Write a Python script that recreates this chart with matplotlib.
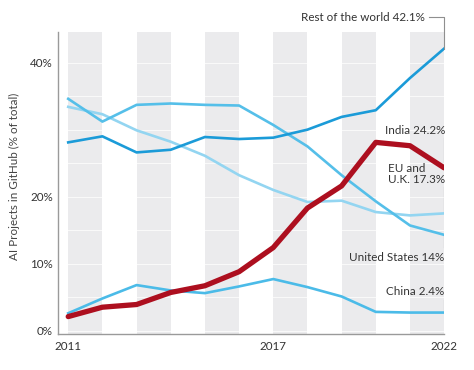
import matplotlib
matplotlib.use("Agg")
import matplotlib.pyplot as plt

years = list(range(2011, 2023))
rest_of_world = [28.1, 29.0, 26.6, 27.0, 28.9, 28.6, 28.8, 30.0, 31.9, 32.9, 37.7, 42.1]
united_states = [34.6, 31.2, 33.7, 33.9, 33.7, 33.6, 30.7, 27.5, 23.2, 19.3, 15.7, 14.3]
eu_uk = [33.4, 32.3, 29.9, 28.2, 26.1, 23.2, 21.0, 19.2, 19.4, 17.7, 17.2, 17.5]
india = [2.1, 3.5, 3.9, 5.7, 6.7, 8.8, 12.4, 18.3, 21.6, 28.1, 27.6, 24.3]
china = [2.6, 4.8, 6.8, 6.0, 5.6, 6.6, 7.7, 6.5, 5.1, 2.8, 2.7, 2.7]

yticks = [0, 10, 20, 40]
ytick_labels = ["0%", "10%", "20%", "40%"]
xticks = [2011, 2017, 2022]
xtick_labels = ["2011", "2017", "2022"]

plt.rcParams['font.family'] = ['Lato', 'DejaVu Sans']

fig = plt.figure(figsize=(4.74, 3.70), dpi=100)
ax = fig.add_axes([0.123, 0.0973, 0.937 - 0.123, 0.914 - 0.0973])

ax.set_xlim(2010.71, 2022)
ax.set_ylim(-0.5, 44.6)

for y0 in range(2011, 2022, 2):
    ax.axvspan(y0, y0 + 1, color="#ebebed", lw=0, zorder=0)
for gy in [0, 5, 10, 15, 20, 25, 30, 35, 40]:
    ax.axhline(gy, color="white", lw=0.8, alpha=0.7, zorder=0.5)

ax.plot(years, eu_uk, color="#93d5f1", lw=1.9, zorder=2, solid_joinstyle="round")
ax.plot(years, united_states, color="#55bfe9", lw=1.9, zorder=2, solid_joinstyle="round")
ax.plot(years, china, color="#4bbbe8", lw=1.9, zorder=2, solid_joinstyle="round")
ax.plot(years, rest_of_world, color="#1b9bd8", lw=1.9, zorder=3, solid_joinstyle="round")
ax.plot(years, india, color="#ad0f1f", lw=3.8, zorder=4, solid_capstyle="round", solid_joinstyle="round")

for s in ["top", "right"]:
    ax.spines[s].set_visible(False)
for s in ["left", "bottom"]:
    ax.spines[s].set_color("#9a9a9a")
    ax.spines[s].set_linewidth(1.0)

ax.set_yticks(yticks)
ax.set_yticklabels(ytick_labels)
ax.set_xticks(xticks)
ax.set_xticklabels(xtick_labels)
ax.tick_params(length=0, labelsize=8.4, colors="#333333", pad=4)
ax.tick_params(axis="x", pad=5)
ax.set_ylabel("AI Projects in GitHub (% of total)", fontsize=8.4, color="#444444")
ax.yaxis.set_label_coords(-0.098, 0.52)

lc = "#8f8f8f"
tc = "#333333"
fs = 8.4
xr = 2022
# Rest of world
ax.text(2021.45, 46.8, "Rest of the world 42.1%", ha="right", va="center", fontsize=fs, color=tc, clip_on=False)
ax.plot([2021.55, xr, xr], [46.8, 46.8, rest_of_world[-1]], color=lc, lw=0.8, clip_on=False, zorder=1)
# India
ax.text(2022.03, 29.9, "India 24.2%", ha="right", va="center", fontsize=fs, color=tc, clip_on=False)
ax.plot([xr, xr], [28.7, india[-1]], color=lc, lw=0.8, zorder=1)
# EU
ax.text(2022.03, 23.4, "EU and\nU.K. 17.3%", ha="right", va="center", fontsize=fs, color=tc,
        linespacing=1.0, multialignment="left", clip_on=False)
ax.plot([xr, xr], [21.4, eu_uk[-1]], color=lc, lw=0.8, zorder=1)
# US
ax.text(2022.0, 10.9, "United States 14%", ha="right", va="center", fontsize=fs, color=tc)
ax.plot([xr, xr], [united_states[-1], 12.5], color=lc, lw=0.8, zorder=1)
# China
ax.text(2022.0, 5.8, "China 2.4%", ha="right", va="center", fontsize=fs, color=tc)
ax.plot([xr, xr], [4.5, china[-1]], color=lc, lw=0.8, zorder=1)

fig.savefig("out.png", dpi=100)
